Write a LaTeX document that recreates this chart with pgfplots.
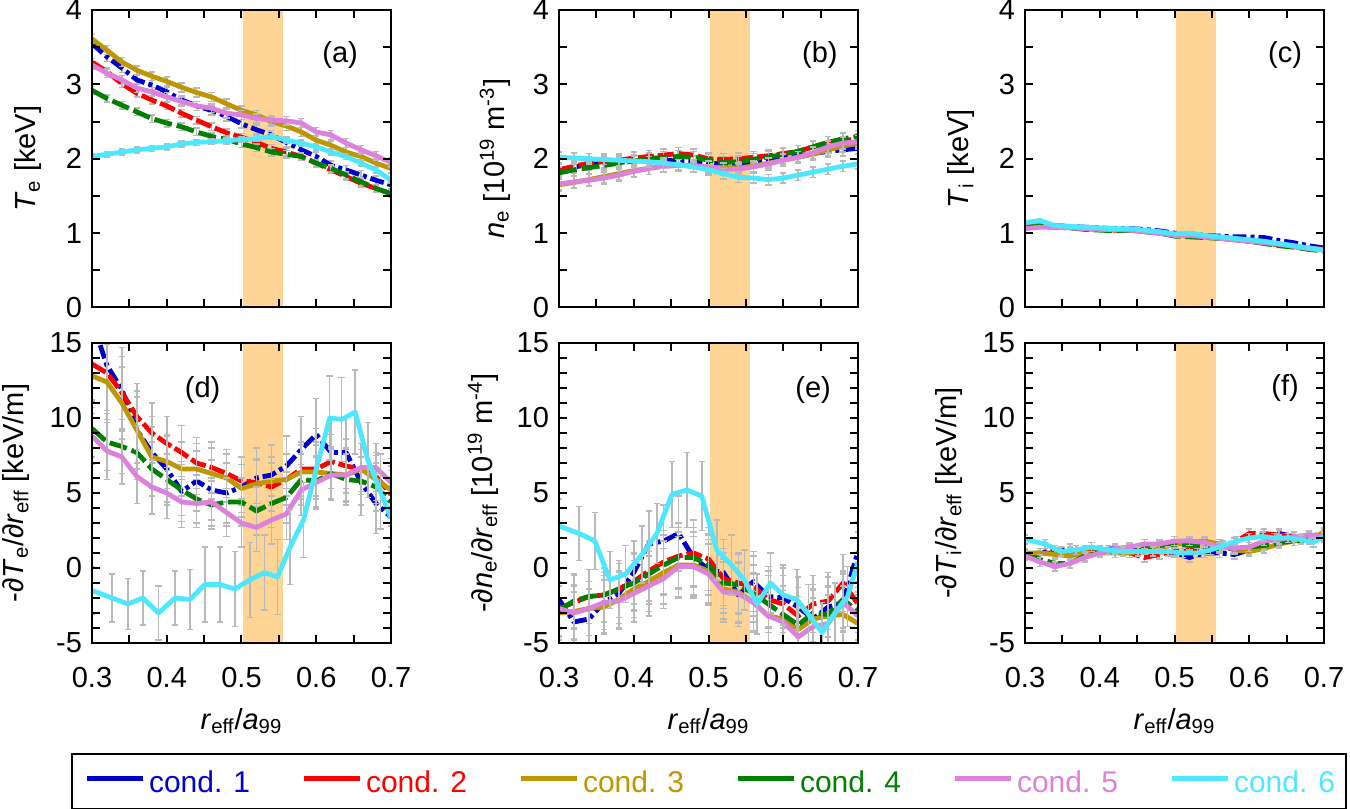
\documentclass[border=0pt]{standalone}
\usepackage{fontspec}
\setmainfont{Liberation Sans}
\usepackage{pgfplots}
\usepackage{pgfplotstable}
\pgfplotsset{compat=1.18}
\definecolor{c1}{RGB}{0,0,205}
\definecolor{c2}{RGB}{255,0,0}
\definecolor{c3}{RGB}{190,150,0}
\definecolor{c4}{RGB}{0,128,0}
\definecolor{c5}{RGB}{220,130,220}
\definecolor{c6}{RGB}{77,232,255}
\definecolor{band}{RGB}{255,213,150}
\definecolor{ebgray}{RGB}{185,185,185}
\newcommand{\fs}{\fontsize{14.5bp}{17bp}\selectfont}
\newcommand{\legentry}[3]{\makebox[#1][l]{\textcolor{#2}{\rule[5.4bp]{28bp}{2.6bp}}\hspace{3bp}\textcolor{#2}{#3}}}

% panel (a): Te
\pgfplotstableread{
x v1 v2 v3 v4 v5 v6
0.30 3.55 3.30 3.61 2.92 3.26 2.03
0.32 3.37 3.17 3.46 2.81 3.15 2.06
0.34 3.22 3.01 3.30 2.72 3.06 2.09
0.36 3.06 2.88 3.19 2.63 2.95 2.12
0.38 2.99 2.79 3.11 2.54 2.90 2.14
0.40 2.90 2.71 3.04 2.48 2.83 2.16
0.42 2.79 2.61 2.96 2.43 2.77 2.20
0.44 2.71 2.52 2.89 2.36 2.71 2.22
0.46 2.65 2.43 2.83 2.30 2.68 2.23
0.48 2.57 2.35 2.74 2.26 2.61 2.24
0.50 2.47 2.29 2.65 2.20 2.59 2.26
0.52 2.39 2.22 2.59 2.15 2.54 2.27
0.54 2.32 2.14 2.50 2.09 2.52 2.30
0.56 2.22 2.09 2.44 2.06 2.51 2.25
0.58 2.12 2.03 2.36 2.03 2.48 2.21
0.60 2.03 1.94 2.25 1.94 2.36 2.16
0.62 1.91 1.85 2.18 1.87 2.32 2.09
0.64 1.85 1.76 2.09 1.78 2.21 2.03
0.66 1.78 1.67 2.03 1.69 2.12 1.94
0.68 1.71 1.60 1.94 1.60 2.04 1.85
0.70 1.65 1.53 1.87 1.53 1.95 1.71
}\tabA
% panel (b): ne
\pgfplotstableread{
x v1 v2 v3 v4 v5 v6
0.30 1.85 1.85 1.65 1.81 1.66 2.02
0.32 1.89 1.90 1.68 1.85 1.69 2.01
0.34 1.92 1.94 1.72 1.88 1.71 2.00
0.36 1.94 1.96 1.76 1.91 1.74 1.99
0.38 1.95 1.98 1.80 1.94 1.78 1.98
0.40 1.97 2.01 1.84 1.97 1.83 1.97
0.42 1.98 2.03 1.87 2.00 1.87 1.96
0.44 1.98 2.05 1.90 2.02 1.90 1.94
0.46 1.97 2.07 1.91 2.03 1.91 1.92
0.48 1.96 2.05 1.90 2.02 1.91 1.89
0.50 1.94 2.00 1.89 1.98 1.89 1.85
0.52 1.93 1.99 1.88 1.95 1.86 1.80
0.54 1.93 2.00 1.88 1.96 1.86 1.75
0.56 1.95 2.02 1.90 1.99 1.89 1.74
0.58 1.97 2.04 1.94 2.02 1.93 1.72
0.60 2.01 2.07 1.98 2.06 1.98 1.74
0.62 2.04 2.10 2.02 2.10 2.02 1.78
0.64 2.07 2.16 2.06 2.16 2.08 1.82
0.66 2.10 2.22 2.12 2.22 2.16 1.86
0.68 2.12 2.26 2.17 2.27 2.21 1.90
0.70 2.14 2.25 2.21 2.30 2.23 1.93
}\tabB
% panel (c): Ti
\pgfplotstableread{
x v1 v2 v3 v4 v5 v6
0.30 1.12 1.08 1.10 1.08 1.06 1.14
0.32 1.12 1.10 1.11 1.09 1.08 1.17
0.34 1.10 1.09 1.10 1.08 1.08 1.10
0.36 1.09 1.08 1.09 1.07 1.07 1.09
0.38 1.08 1.06 1.07 1.05 1.06 1.08
0.40 1.07 1.05 1.06 1.04 1.05 1.07
0.42 1.06 1.04 1.05 1.03 1.05 1.06
0.44 1.06 1.04 1.05 1.04 1.04 1.06
0.46 1.05 1.02 1.03 1.02 1.02 1.04
0.48 1.03 1.00 1.01 1.00 1.00 1.02
0.50 1.00 0.97 0.98 0.96 0.97 0.99
0.52 0.99 0.96 0.97 0.95 0.97 1.00
0.54 0.97 0.95 0.96 0.94 0.95 0.97
0.56 0.96 0.93 0.94 0.93 0.93 0.95
0.58 0.95 0.91 0.92 0.92 0.91 0.93
0.60 0.95 0.89 0.90 0.89 0.89 0.91
0.62 0.94 0.87 0.87 0.86 0.87 0.89
0.64 0.90 0.84 0.85 0.83 0.85 0.86
0.66 0.87 0.82 0.82 0.81 0.82 0.83
0.68 0.83 0.79 0.80 0.78 0.79 0.80
0.70 0.80 0.77 0.78 0.76 0.77 0.77
}\tabC
% panel (d): -dTe/dr
\pgfplotstableread{
x v1 v2 v3 v4 v5 ea eb ec
0.30 16.5 13.6 12.8 9.3 8.8 3.0 2.5 1.9
0.32 13.5 13.0 12.4 8.4 7.8 3.0 2.5 1.9
0.34 11.9 11.7 11.0 8.1 7.4 2.8 2.4 1.8
0.36 9.2 10.1 9.2 7.7 6.1 2.6 2.2 1.8
0.38 7.7 9.0 7.4 6.6 5.4 2.4 2.0 1.8
0.40 6.6 8.3 7.1 5.9 5.0 2.2 1.8 1.7
0.42 5.1 7.7 6.6 5.2 4.4 2.0 1.8 1.7
0.44 5.8 7.0 6.6 4.6 4.3 2.0 1.7 1.6
0.46 5.2 6.7 6.3 4.2 4.4 2.0 1.7 1.6
0.48 5.0 6.3 6.0 4.4 3.7 2.0 1.6 1.6
0.50 5.4 5.8 5.3 4.4 3.0 2.0 1.6 1.6
0.52 6.0 5.7 5.6 3.8 2.7 2.0 1.6 1.6
0.54 6.2 5.4 5.8 4.3 3.2 2.0 1.6 1.6
0.56 6.8 5.9 5.9 4.7 3.6 2.0 1.7 1.7
0.58 7.9 6.6 6.4 5.9 5.2 2.2 1.8 1.7
0.60 8.9 6.6 6.4 5.8 5.7 2.4 1.8 1.7
0.62 7.7 7.1 6.3 6.3 6.2 2.4 1.8 1.7
0.64 7.7 6.8 6.2 5.9 6.2 2.4 1.8 1.7
0.66 5.7 6.6 6.6 5.8 6.7 2.2 1.7 1.6
0.68 4.3 6.1 5.9 5.4 6.7 2.0 1.6 1.6
0.70 3.4 4.9 5.2 4.4 5.7 2.0 1.6 1.6
}\tabD
% panel (e): -dne/dr
\pgfplotstableread{
x v1 v2 v3 v4 v5 ea eb ec
0.30 -2.1 -2.7 -3.0 -2.8 -2.7 2.0 1.8 1.8
0.32 -3.6 -2.3 -2.9 -2.2 -3.0 2.0 1.8 1.8
0.34 -3.4 -1.9 -2.7 -1.9 -2.7 2.0 1.8 1.8
0.36 -2.3 -1.8 -2.6 -1.8 -2.3 2.0 1.8 1.8
0.38 -1.7 -1.4 -2.1 -1.4 -2.2 2.0 1.9 1.9
0.40 -0.3 -0.9 -1.4 -1.0 -1.7 2.1 1.9 1.9
0.42 1.6 -0.2 -0.9 -0.4 -1.2 2.2 2.0 2.0
0.44 1.8 0.4 -0.3 0.2 -0.7 2.4 2.1 2.0
0.46 2.3 0.8 0.2 0.7 0.1 2.5 2.2 2.0
0.48 0.7 1.0 0.2 0.7 0.1 2.5 2.2 2.0
0.50 -0.1 0.6 -0.2 0.2 -0.4 2.4 2.1 2.0
0.52 -0.3 -0.7 -1.4 -1.0 -1.6 2.2 2.0 2.0
0.54 -1.8 -1.0 -1.6 -1.1 -1.7 2.1 2.0 2.0
0.56 -0.9 -1.2 -2.3 -1.7 -2.3 2.0 2.0 1.9
0.58 -1.9 -2.1 -3.2 -2.4 -3.2 2.0 1.9 1.9
0.60 -2.0 -2.4 -3.4 -3.1 -3.6 2.0 1.9 1.9
0.62 -2.6 -3.2 -4.1 -3.8 -4.6 2.0 1.9 1.9
0.64 -3.4 -2.4 -3.4 -3.0 -3.9 2.0 1.9 1.9
0.66 -2.6 -2.2 -3.2 -3.1 -3.7 2.0 1.9 1.9
0.68 -2.3 -1.0 -3.1 -2.1 -2.3 2.0 1.9 1.9
0.70 1.1 -2.4 -3.7 -2.9 -3.2 2.0 1.9 1.9
}\tabE
% panel (f): -dTi/dr
\pgfplotstableread{
x v1 v2 v3 v4 v5 ea
0.30 0.9 0.9 1.0 0.8 0.8 0.3
0.32 1.0 1.0 1.0 0.6 0.4 0.3
0.34 1.2 1.0 0.9 0.3 0.1 0.3
0.36 1.3 1.1 0.8 0.3 0.3 0.3
0.38 1.2 1.2 1.0 0.8 0.7 0.3
0.40 1.2 1.2 1.0 1.1 1.0 0.3
0.42 1.3 1.2 1.0 1.2 1.3 0.3
0.44 1.3 1.0 1.0 1.3 1.4 0.3
0.46 1.2 0.7 1.2 1.4 1.6 0.3
0.48 1.2 0.9 1.3 1.5 1.6 0.3
0.50 1.0 1.1 1.6 1.6 1.8 0.3
0.52 0.7 1.2 1.7 1.5 1.8 0.3
0.54 1.0 1.2 1.8 1.4 1.7 0.3
0.56 1.0 1.4 1.6 1.3 1.4 0.3
0.58 0.9 1.7 1.2 1.3 1.3 0.3
0.60 1.2 2.3 1.1 1.4 1.4 0.3
0.62 1.6 2.3 1.3 1.5 1.8 0.3
0.64 2.3 2.2 1.6 1.7 1.9 0.3
0.66 2.1 2.1 1.8 1.8 2.1 0.3
0.68 2.1 2.1 1.9 1.9 2.2 0.3
0.70 2.3 2.0 2.4 2.0 2.1 0.3
}\tabF
% cond. 6 gradients (own radial grid)
\pgfplotstableread{
x d ed e ee f ef
0.300 -1.5 1.6 2.8 1.8 1.9 0.3
0.327 -2.0 1.6 2.3 1.8 1.6 0.3
0.348 -2.4 1.7 1.8 1.9 1.1 0.3
0.368 -2.0 1.8 -0.8 1.9 1.2 0.3
0.389 -3.0 1.8 -0.4 1.9 1.4 0.3
0.411 -2.0 1.8 0.9 1.9 1.2 0.3
0.431 -2.1 2.0 2.3 2.0 1.1 0.3
0.451 -1.1 2.5 4.9 2.2 1.1 0.3
0.471 -1.1 2.5 5.2 2.5 1.1 0.3
0.491 -1.4 2.5 4.8 2.3 1.1 0.3
0.511 -0.8 2.5 1.2 2.0 1.0 0.3
0.531 -0.3 2.5 0.2 2.0 1.0 0.3
0.548 -0.6 2.5 -0.8 2.0 1.2 0.3
0.565 1.4 2.5 -2.4 2.0 1.5 0.3
0.583 3.2 2.5 -1.0 2.0 1.8 0.3
0.600 6.6 2.7 -1.8 2.0 2.0 0.3
0.618 10.0 2.8 -2.1 2.0 2.1 0.3
0.634 9.9 2.8 -3.1 2.0 2.0 0.3
0.652 10.4 2.8 -4.3 2.0 2.0 0.3
0.669 7.2 2.5 -3.0 2.0 1.9 0.3
0.686 5.1 2.5 -1.9 2.0 1.7 0.3
0.700 3.3 2.2 0.4 2.0 2.1 0.3
}\tabG

\pgfplotsset{
  /pgf/number format/assume math mode=true,
  s1/.style={c1, line width=2.4bp, line join=round, dash pattern=on 7bp off 2bp on 2bp off 2bp, forget plot},
  s2/.style={c2, line width=2.4bp, line join=round, dash pattern=on 8bp off 2bp, forget plot},
  s3/.style={c3, line width=2.4bp, line join=round, forget plot},
  s4/.style={c4, line width=2.4bp, line join=round, dash pattern=on 9bp off 2.5bp, forget plot},
  s5/.style={c5, line width=2.4bp, line join=round, forget plot},
  s6/.style={c6, line width=2.4bp, line join=round, forget plot},
  eb/.style={draw=none, mark=none, forget plot,
    error bars/.cd, y dir=both, y explicit,
    error bar style={draw=ebgray, line width=0.8bp, solid},
    error mark options={rotate=90, draw=ebgray, line width=0.8bp, solid, mark size=1.6bp}},
  base/.style={scale only axis, width=149.5bp, xmin=0.3, xmax=0.7,
    xtick={0.3,0.4,0.5,0.6,0.7}, minor x tick num=1,
    tick align=inside, xtick pos=both, ytick pos=both,
    major tick length=4bp, minor tick length=4bp,
    every tick/.style={black, line width=1bp},
    axis line style={line width=1bp}, axis on top,
    tick label style={font=\fs}, label style={font=\fs},
    xticklabel style={yshift=-8.5bp}, yticklabel style={xshift=-1.5bp}},
  toprow/.style={base, height=148.75bp, ymin=0, ymax=4, ytick={0,1,2,3,4},
    yticklabels={0,1,2,3,4}, minor y tick num=1, xticklabels={},
    ylabel style={at={(axis description cs:-0.214,0.5)}, anchor=center}},
  botrow/.style={base, height=150bp, ymin=-5, ymax=15, ytick={-5,0,5,10,15},
    yticklabels={-5,0,5,10,15}, minor y tick num=4,
    xticklabels={0.3,0.4,0.5,0.6,0.7},
    xlabel={\textit{r}\textsubscript{eff}/\textit{a}\textsubscript{99}},
    xlabel style={at={(axis description cs:0.5,-0.26)}, anchor=center},
    ylabel style={at={(axis description cs:-0.254,0.5)}, anchor=center}},
}

\begin{document}
\begin{tikzpicture}
\useasboundingbox (0,0) rectangle (675bp,404.5bp);

% ---------- (a) ----------
\begin{axis}[toprow, at={(46bp,250.75bp)}, anchor=south west,
  ylabel={\textit{T}\textsubscript{e} [keV]}]
\addplot[fill=band, draw=none, forget plot] coordinates {(0.502,0) (0.502,4) (0.555,4) (0.555,0)} -- cycle;
\addplot[eb] table[x=x, y=v1, y error expr=0.06] {\tabA};
\addplot[s1] table[x=x, y=v1] {\tabA};
\addplot[eb] table[x=x, y=v2, y error expr=0.05] {\tabA};
\addplot[s2] table[x=x, y=v2] {\tabA};
\addplot[eb] table[x=x, y=v3, y error expr=0.06] {\tabA};
\addplot[s3] table[x=x, y=v3] {\tabA};
\addplot[eb] table[x=x, y=v4, y error expr=0.05] {\tabA};
\addplot[s4] table[x=x, y=v4] {\tabA};
\addplot[eb] table[x=x, y=v5, y error expr=0.06] {\tabA};
\addplot[s5] table[x=x, y=v5] {\tabA};
\addplot[eb] table[x=x, y=v6, y error expr=0.04] {\tabA};
\addplot[s6] table[x=x, y=v6] {\tabA};
\node[font=\fs] at (axis cs:0.632,3.39) {(a)};
\end{axis}

% ---------- (b) ----------
\begin{axis}[toprow, at={(279.5bp,250.75bp)}, anchor=south west,
  ylabel={\textit{n}\textsubscript{e} [10\textsuperscript{19} m\textsuperscript{-3}]}]
\addplot[fill=band, draw=none, forget plot] coordinates {(0.502,0) (0.502,4) (0.555,4) (0.555,0)} -- cycle;
\addplot[eb] table[x=x, y=v1, y error expr=0.08] {\tabB};
\addplot[s1] table[x=x, y=v1] {\tabB};
\addplot[eb] table[x=x, y=v2, y error expr=0.08] {\tabB};
\addplot[s2] table[x=x, y=v2] {\tabB};
\addplot[eb] table[x=x, y=v3, y error expr=0.08] {\tabB};
\addplot[s3] table[x=x, y=v3] {\tabB};
\addplot[eb] table[x=x, y=v4, y error expr=0.08] {\tabB};
\addplot[s4] table[x=x, y=v4] {\tabB};
\addplot[eb] table[x=x, y=v5, y error expr=0.08] {\tabB};
\addplot[s5] table[x=x, y=v5] {\tabB};
\addplot[eb] table[x=x, y=v6, y error expr=0.07] {\tabB};
\addplot[s6] table[x=x, y=v6] {\tabB};
\node[font=\fs] at (axis cs:0.649,3.39) {(b)};
\end{axis}

% ---------- (c) ----------
\begin{axis}[toprow, at={(512.5bp,250.75bp)}, anchor=south west,
  ylabel={\textit{T}\textsubscript{i} [keV]}]
\addplot[fill=band, draw=none, forget plot] coordinates {(0.502,0) (0.502,4) (0.555,4) (0.555,0)} -- cycle;
\addplot[s1] table[x=x, y=v1] {\tabC};
\addplot[s2] table[x=x, y=v2] {\tabC};
\addplot[s3] table[x=x, y=v3] {\tabC};
\addplot[s4] table[x=x, y=v4] {\tabC};
\addplot[s5] table[x=x, y=v5] {\tabC};
\addplot[s6] table[x=x, y=v6] {\tabC};
\node[font=\fs] at (axis cs:0.648,3.39) {(c)};
\end{axis}

% ---------- (d) ----------
\begin{axis}[botrow, at={(46bp,83bp)}, anchor=south west,
  ylabel={-\textit{∂T}\textsubscript{e}/\textit{∂r}\textsubscript{eff} [keV/m]}]
\addplot[fill=band, draw=none, forget plot] coordinates {(0.502,-5) (0.502,15) (0.555,15) (0.555,-5)} -- cycle;
\addplot[eb] table[x=x, y=v1, y error=ea] {\tabD};
\addplot[s1] table[x=x, y=v1] {\tabD};
\addplot[eb] table[x=x, y=v2, y error=eb] {\tabD};
\addplot[s2] table[x=x, y=v2] {\tabD};
\addplot[eb] table[x=x, y=v3, y error=eb] {\tabD};
\addplot[s3] table[x=x, y=v3] {\tabD};
\addplot[eb] table[x=x, y=v4, y error=ec] {\tabD};
\addplot[s4] table[x=x, y=v4] {\tabD};
\addplot[eb] table[x=x, y=v5, y error=ec] {\tabD};
\addplot[s5] table[x=x, y=v5] {\tabD};
\addplot[eb] table[x=x, y=d, y error=ed] {\tabG};
\addplot[s6] table[x=x, y=d] {\tabG};
\node[font=\fs] at (axis cs:0.448,11.9) {(d)};
\end{axis}

% ---------- (e) ----------
\begin{axis}[botrow, at={(279.5bp,83bp)}, anchor=south west,
  ylabel={-\textit{∂n}\textsubscript{e}/\textit{∂r}\textsubscript{eff} [10\textsuperscript{19} m\textsuperscript{-4}]}]
\addplot[fill=band, draw=none, forget plot] coordinates {(0.502,-5) (0.502,15) (0.555,15) (0.555,-5)} -- cycle;
\addplot[eb] table[x=x, y=v1, y error=ea] {\tabE};
\addplot[s1] table[x=x, y=v1] {\tabE};
\addplot[eb] table[x=x, y=v2, y error=eb] {\tabE};
\addplot[s2] table[x=x, y=v2] {\tabE};
\addplot[eb] table[x=x, y=v3, y error=eb] {\tabE};
\addplot[s3] table[x=x, y=v3] {\tabE};
\addplot[eb] table[x=x, y=v4, y error=ec] {\tabE};
\addplot[s4] table[x=x, y=v4] {\tabE};
\addplot[eb] table[x=x, y=v5, y error=ec] {\tabE};
\addplot[s5] table[x=x, y=v5] {\tabE};
\addplot[eb] table[x=x, y=e, y error=ee] {\tabG};
\addplot[s6] table[x=x, y=e] {\tabG};
\node[font=\fs] at (axis cs:0.640,11.9) {(e)};
\end{axis}

% ---------- (f) ----------
\begin{axis}[botrow, at={(512.5bp,83bp)}, anchor=south west,
  ylabel={-\textit{∂T}\textsubscript{i}/\textit{∂r}\textsubscript{eff} [keV/m]}]
\addplot[fill=band, draw=none, forget plot] coordinates {(0.502,-5) (0.502,15) (0.555,15) (0.555,-5)} -- cycle;
\addplot[eb] table[x=x, y=v1, y error=ea] {\tabF};
\addplot[s1] table[x=x, y=v1] {\tabF};
\addplot[eb] table[x=x, y=v2, y error=ea] {\tabF};
\addplot[s2] table[x=x, y=v2] {\tabF};
\addplot[eb] table[x=x, y=v3, y error=ea] {\tabF};
\addplot[s3] table[x=x, y=v3] {\tabF};
\addplot[eb] table[x=x, y=v4, y error=ea] {\tabF};
\addplot[s4] table[x=x, y=v4] {\tabF};
\addplot[eb] table[x=x, y=v5, y error=ea] {\tabF};
\addplot[s5] table[x=x, y=v5] {\tabF};
\addplot[eb] table[x=x, y=f, y error=ef] {\tabG};
\addplot[s6] table[x=x, y=f] {\tabG};
\node[font=\fs] at (axis cs:0.648,12.0) {(f)};
\end{axis}

% ---------- legend ----------
\node[draw=black, line width=1bp, inner sep=0pt, minimum height=27.5bp,
  anchor=north west, font=\fontsize{15bp}{18bp}\selectfont]
  at (35.5bp,28bp) {\hspace*{7.5bp}\legentry{108.5bp}{c1}{cond. 1}\legentry{108.5bp}{c2}{cond. 2}\legentry{108.5bp}{c3}{cond. 3}\legentry{108.5bp}{c4}{cond. 4}\legentry{108.5bp}{c5}{cond. 5}\legentry{87bp}{c6}{cond. 6}};
\end{tikzpicture}
\end{document}
